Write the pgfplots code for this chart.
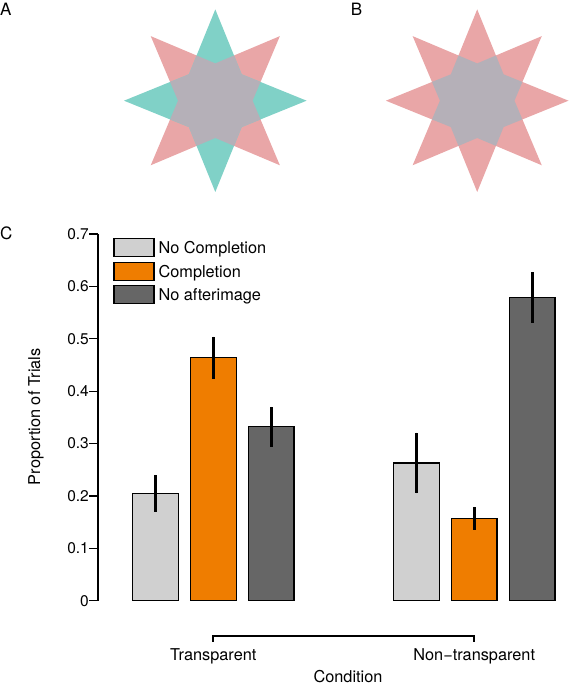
\documentclass[border=0pt]{standalone}
\usepackage{fontspec}
\setmainfont{TeX Gyre Heros}
\usepackage{pgfplots}
\usepackage{pgfplotstable}
\pgfplotsset{compat=1.18}
\definecolor{lg}{HTML}{D0D0D0}
\definecolor{org}{HTML}{EF7D00}
\definecolor{dg}{HTML}{666666}
\definecolor{teal1}{HTML}{80D1C7}
\definecolor{pink1}{HTML}{E9A6A7}
\definecolor{gray1}{HTML}{B5B0B8}

\pgfplotstableread{
x y e
-0.221 0.205 0.035
0.779 0.263 0.058
}\nocomp
\pgfplotstableread{
x y e
0 0.464 0.040
1 0.157 0.022
}\comp
\pgfplotstableread{
x y e
0.222 0.332 0.038
1.222 0.579 0.048
}\noafter

\begin{document}
\begin{tikzpicture}[x=1pt,y=1pt]
% Panel A star
\begin{scope}[shift={(215.3,584.3)}]
\fill[pink1] (45:91.3pt) -- (90:37.3pt) -- (135:91.3pt) -- (180:37.3pt) -- (225:91.3pt) -- (270:37.3pt) -- (315:91.3pt) -- (0:37.3pt) -- cycle;
\fill[teal1] (90:91.3pt) -- (135:37.3pt) -- (180:91.3pt) -- (225:37.3pt) -- (270:91.3pt) -- (315:37.3pt) -- (0:91.3pt) -- (45:37.3pt) -- cycle;
\begin{scope}
\clip (90:91.3pt) -- (135:37.3pt) -- (180:91.3pt) -- (225:37.3pt) -- (270:91.3pt) -- (315:37.3pt) -- (0:91.3pt) -- (45:37.3pt) -- cycle;
\fill[gray1] (45:91.3pt) -- (90:37.3pt) -- (135:91.3pt) -- (180:37.3pt) -- (225:91.3pt) -- (270:37.3pt) -- (315:91.3pt) -- (0:37.3pt) -- cycle;
\end{scope}
\end{scope}
% Panel B star
\begin{scope}[shift={(477.2,584.3)}]
\fill[pink1] (45:91.3pt) -- (90:37.3pt) -- (135:91.3pt) -- (180:37.3pt) -- (225:91.3pt) -- (270:37.3pt) -- (315:91.3pt) -- (0:37.3pt) -- cycle;
\fill[pink1] (90:91.3pt) -- (135:37.3pt) -- (180:91.3pt) -- (225:37.3pt) -- (270:91.3pt) -- (315:37.3pt) -- (0:91.3pt) -- (45:37.3pt) -- cycle;
\begin{scope}
\clip (90:91.3pt) -- (135:37.3pt) -- (180:91.3pt) -- (225:37.3pt) -- (270:91.3pt) -- (315:37.3pt) -- (0:91.3pt) -- (45:37.3pt) -- cycle;
\fill[gray1] (45:91.3pt) -- (90:37.3pt) -- (135:91.3pt) -- (180:37.3pt) -- (225:91.3pt) -- (270:37.3pt) -- (315:91.3pt) -- (0:37.3pt) -- cycle;
\end{scope}
\end{scope}
% panel letters
\node[anchor=base west, inner sep=0pt, font=\fontsize{17}{20}\selectfont] at (0,669) {A};
\node[anchor=base west, inner sep=0pt, font=\fontsize{17}{20}\selectfont] at (350.7,669) {B};
\node[anchor=base west, inner sep=0pt, font=\fontsize{17}{20}\selectfont] at (0,445) {C};

\begin{axis}[
  at={(98pt,49.3pt)}, anchor=south west,
  scale only axis, width=459.7pt, height=401.7pt,
  xmin=-0.442, xmax=1.32, ymin=-0.0668, ymax=0.7,
  clip=false,
  font=\fontsize{16.3}{19.5}\selectfont,
  axis x line*=bottom, axis y line*=left,
  axis line style={draw=none},
  xtick={0,1}, xticklabels={Transparent, Non−transparent},
  xtick style={draw=none},
  xticklabel style={anchor=base, yshift=-15.3pt},
  ytick={0,0.1,0.2,0.3,0.4,0.5,0.6,0.7},
  yticklabels={0,0.1,0.2,0.3,0.4,0.5,0.6,0.7},
  yticklabel style={anchor=east, inner sep=0pt, font=\fontsize{15.5}{18}\selectfont},
  ytick style={black, line width=1.3pt},
  major tick length=9pt,
  tick align=outside,
  xlabel={Condition},
  xlabel style={at={(axis description cs:0.5438,0)}, anchor=base, yshift=-47pt, inner sep=0pt},
  ylabel={Proportion of Trials},
  every axis y label/.style={at={(axis description cs:-0.1349,0.5448)}, rotate=90, anchor=center},
  legend cell align=left,
  legend style={at={(axis cs:-0.3833,0.6919)}, anchor=north west, draw=none, fill=none,
    inner sep=0pt, outer sep=0pt, row sep=4.15pt, column sep=4pt,
    nodes={inner sep=0pt, text height=15pt, text depth=3.3pt}},
  mylegend/.style={legend image code/.code={\draw[##1, line width=1.2pt] (0pt,-9pt) rectangle (40pt,9pt);}},
  error bars/error bar style={line width=2.8pt, black},
]
\addplot[ybar, bar width=0.175, bar shift=0pt, fill=lg, draw=black, line width=1.2pt, mylegend,
  error bars/.cd, y dir=both, y explicit, error mark=none]
  table[x=x, y=y, y error=e] {\nocomp};
\addlegendentry{No Completion}
\addplot[ybar, bar width=0.175, bar shift=0pt, fill=org, draw=black, line width=1.2pt, mylegend,
  error bars/.cd, y dir=both, y explicit, error mark=none]
  table[x=x, y=y, y error=e] {\comp};
\addlegendentry{Completion}
\addplot[ybar, bar width=0.175, bar shift=0pt, fill=dg, draw=black, line width=1.2pt, mylegend,
  error bars/.cd, y dir=both, y explicit, error mark=none]
  table[x=x, y=y, y error=e] {\noafter};
\addlegendentry{No afterimage}
\draw[line width=2.2pt] (axis cs:-0.442,0) -- (axis cs:-0.442,0.7);
\draw[line width=1.9pt] (axis cs:0,-0.0668) ++(0pt,-6pt) -- (axis cs:0,-0.0668) -- (axis cs:1,-0.0668) -- ++(0pt,-6pt);
\end{axis}
\pgfresetboundingbox
\path[use as bounding box] (0,0) rectangle (569pt,685pt);
\end{tikzpicture}
\end{document}
